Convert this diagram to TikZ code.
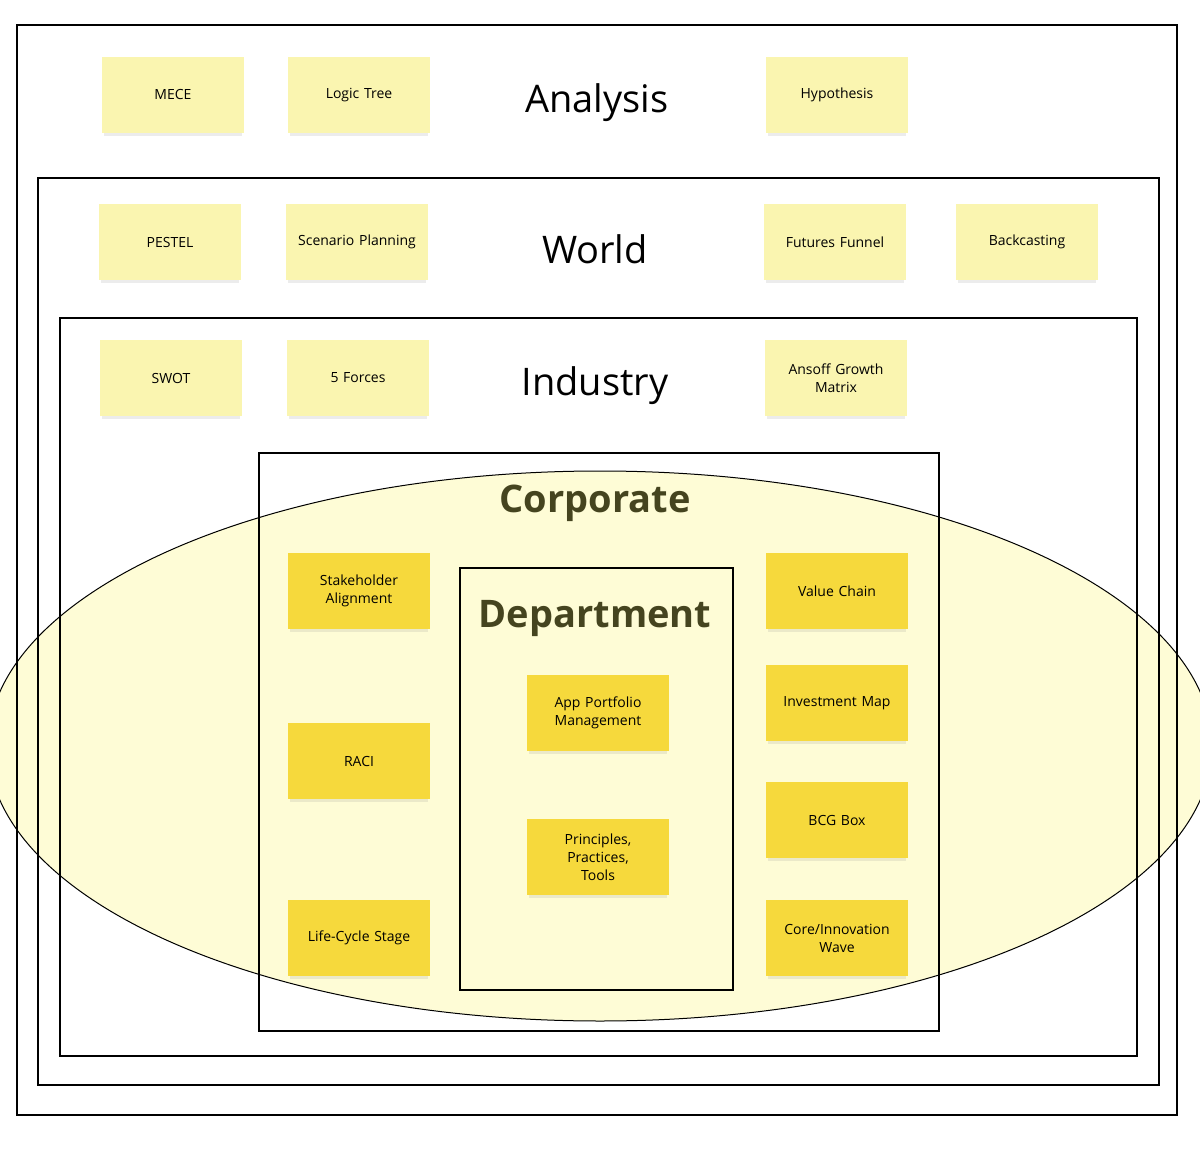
\documentclass[tikz,border=0pt]{standalone}
\usepackage{fontspec}
\setmainfont{Open Sans}
\usetikzlibrary{shadows}
\definecolor{paleNote}{HTML}{FAF5B0}
\definecolor{deepNote}{HTML}{F6D93C}
\definecolor{ovalFill}{HTML}{FEFCD6}
\definecolor{olive}{HTML}{45441F}
\tikzset{
  note/.style={fill=paleNote, minimum width=142pt, minimum height=76pt, text width=120pt,
    align=center, font=\fontsize{14}{18}\selectfont,
    drop shadow={shadow xshift=0pt, shadow yshift=-4pt, shadow scale=0.97, opacity=0.15}},
  deepnote/.style={note, fill=deepNote},
  frame/.style={draw, line width=1.2pt},
  title/.style={font=\fontsize{38}{44}\selectfont},
  boldtitle/.style={font=\fontsize{38}{44}\selectfont\bfseries, text=olive}
}
\begin{document}
\begin{tikzpicture}[x=1pt,y=-1pt]
\useasboundingbox[fill=white] (0,0) rectangle (1200,1161);

% oval behind everything
\begin{scope}
\clip (0,0) rectangle (1200,1161);
\draw[fill=ovalFill, line width=1pt] (600,746) ellipse (612pt and 275pt);
\end{scope}

% nested scopes
\draw[frame] (17,25) rectangle (1177,1115);
\draw[frame] (38,178) rectangle (1159,1085);
\draw[frame] (60,318) rectangle (1137,1056);
\draw[frame] (259,453) rectangle (939,1031);
\draw[frame] (460,568) rectangle (733,990);

% Analysis
\node[note] (mece) at (173,95) {MECE};
\node[note] (logictree) at (359,95) {Logic Tree};
\node[title] (analysis) at (597,103) {Analysis};
\node[note] (hypothesis) at (837,95) {Hypothesis};

% World
\node[note] (pestel) at (170,242) {PESTEL};
\node[note] (scenario) at (357,242) {Scenario Planning};
\node[title] (world) at (595,249) {World};
\node[note] (funnel) at (835,242) {Futures Funnel};
\node[note] (backcasting) at (1027,242) {Backcasting};

% Industry
\node[note] (swot) at (171,378) {SWOT};
\node[note] (forces) at (358,378) {5 Forces};
\node[title] (industry) at (595,386) {Industry};
\node[note] (ansoff) at (836,378) {Ansoff Growth\\Matrix};

% Corporate
\node[boldtitle] (corporate) at (595,503) {Corporate};
\node[deepnote] (stakeholder) at (359,591) {Stakeholder\\Alignment};
\node[deepnote] (raci) at (359,761) {RACI};
\node[deepnote] (lifecycle) at (359,938) {Life-Cycle Stage};
\node[deepnote] (valuechain) at (837,591) {Value Chain};
\node[deepnote] (investment) at (837,703) {Investment Map};
\node[deepnote] (bcg) at (837,820) {BCG Box};
\node[deepnote] (coreinnov) at (837,938) {Core/Innovation\\Wave};

% Department
\node[boldtitle] (department) at (595,618) {Department};
\node[deepnote] (appportfolio) at (598,713) {App Portfolio\\Management};
\node[deepnote] (principles) at (598,857) {Principles,\\Practices,\\Tools};
\end{tikzpicture}
\end{document}
